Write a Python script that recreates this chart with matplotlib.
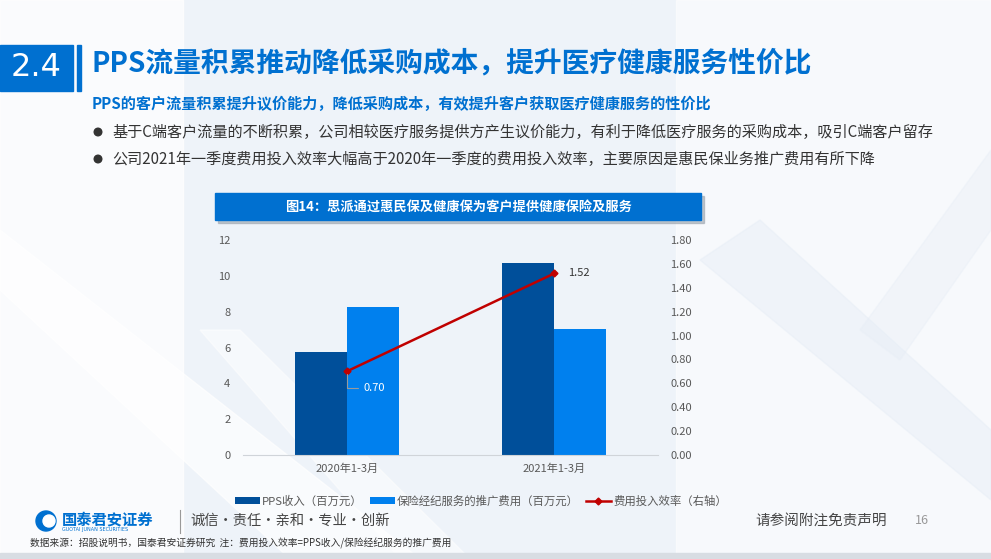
import matplotlib
matplotlib.use("Agg")
import matplotlib.pyplot as plt
from matplotlib.patches import Rectangle, Polygon, Circle
import numpy as np

plt.rcParams['font.family'] = ['Noto Sans CJK SC', 'DejaVu Sans']

# data
periods = ['2020年1-3月', '2021年1-3月']
pps_income = [5.75, 10.71]       # 百万元
promo_cost = [8.26, 7.03]        # 百万元
efficiency = [0.70, 1.52]        # 右轴
left_ticks = [0, 2, 4, 6, 8, 10, 12]
right_ticks = [0.0, 0.2, 0.4, 0.6, 0.8, 1.0, 1.2, 1.4, 1.6, 1.8]

W, H = 991, 559
BLUE = '#0070d0'
DARK = '#004f9a'
LIGHT = '#0080ee'
RED = '#c00000'
GREY = '#595959'

fig = plt.figure(figsize=(W / 100, H / 100), dpi=100)
fig.patch.set_facecolor('#eef3f9')

# background canvas in pixel coords
bg = fig.add_axes([0, 0, 1, 1])
bg.set_xlim(0, W)
bg.set_ylim(H, 0)
bg.axis('off')
# left white column, right pale column, a few diagonal stripes
bg.add_patch(Rectangle((0, 0), 183, H, color='white', alpha=0.75, zorder=0))
bg.add_patch(Rectangle((676, 0), W - 676, H, color='white', alpha=0.55, zorder=0))
bg.add_patch(Polygon([(0, 230), (0, 290), (290, 559), (420, 559)], color='white', alpha=0.7, zorder=0))
bg.add_patch(Polygon([(200, 330), (240, 330), (470, 559), (400, 559)], color='white', alpha=0.5, zorder=0))
bg.add_patch(Polygon([(700, 260), (760, 220), (991, 430), (991, 500)], color='#e6edf6', alpha=0.45, zorder=0))
bg.add_patch(Polygon([(860, 330), (991, 150), (991, 230), (900, 360)], color='#e6edf6', alpha=0.35, zorder=0))
bg.add_patch(Rectangle((0, 553), W, 6, color='#d8dde3', zorder=0))

# header
bg.add_patch(Rectangle((0, 45), 73, 46, color=BLUE, zorder=1))
bg.text(36, 68, '2.4', color='white', fontsize=23, ha='center', va='center', family='DejaVu Sans')
bg.add_patch(Rectangle((77, 45), 4, 46, color=BLUE, zorder=1))
bg.text(92, 63, 'PPS流量积累推动降低采购成本，提升医疗健康服务性价比', color=BLUE,
        fontsize=20, fontweight='bold', ha='left', va='center')
bg.text(92, 104, 'PPS的客户流量积累提升议价能力，降低采购成本，有效提升客户获取医疗健康服务的性价比',
        color=BLUE, fontsize=10.9, fontweight='bold', ha='left', va='center')
bullets = ['基于C端客户流量的不断积累，公司相较医疗服务提供方产生议价能力，有利于降低医疗服务的采购成本，吸引C端客户留存',
           '公司2021年一季度费用投入效率大幅高于2020年一季度的费用投入效率，主要原因是惠民保业务推广费用有所下降']
for i, b in enumerate(bullets):
    y = 132 + i * 27
    bg.add_patch(Circle((98, y), 3.8, color='#333333', zorder=2))
    bg.text(112, y, b, color='#333333', fontsize=10.9, ha='left', va='center')

# chart title bar
bg.add_patch(Rectangle((218, 196), 486, 27, color='#9aa3ad', alpha=0.6, zorder=1))
bg.add_patch(Rectangle((215, 193), 486, 27, color=BLUE, zorder=2))
bg.text(458, 207, '图14：思派通过惠民保及健康保为客户提供健康保险及服务', color='white',
        fontsize=9.5, fontweight='bold', ha='center', va='center', zorder=3)

# main chart
ax = fig.add_axes([243 / W, 1 - 455 / H, 415 / W, 215 / H])
ax.patch.set_alpha(0)
x = np.arange(len(periods))
bw = 0.25
ax.bar(x - bw / 2, pps_income, bw, color=DARK, label='PPS收入（百万元）', zorder=2)
ax.bar(x + bw / 2, promo_cost, bw, color=LIGHT, label='保险经纪服务的推广费用（百万元）', zorder=2)
ax.set_xlim(-0.5, 1.5)
ax.set_ylim(0, 12)
ax.set_yticks(left_ticks)
ax.set_xticks(x)
ax.set_xticklabels(periods)
for s in ['top', 'right', 'left']:
    ax.spines[s].set_visible(False)
ax.spines['bottom'].set_color('#d0d4d9')
ax.tick_params(axis='both', length=0, labelsize=8, colors=GREY, pad=6)
ax.tick_params(axis='y', pad=9)

ax2 = ax.twinx()
ax2.plot(x, efficiency, color=RED, lw=1.8, marker='D', ms=3.5, label='费用投入效率（右轴）', zorder=3)
ax2.set_ylim(0, 1.8)
ax2.set_yticks(right_ticks)
ax2.set_yticklabels([f'{t:.2f}' for t in right_ticks])
for s in ax2.spines.values():
    s.set_visible(False)
ax2.tick_params(axis='y', length=0, labelsize=8, colors=GREY, pad=9)

ax2.annotate(f'{efficiency[0]:.2f}', xy=(x[0], efficiency[0]), xytext=(12, -12),
             textcoords='offset points', color='white', fontsize=8, va='center',
             arrowprops=dict(arrowstyle='-', color='#9a9a9a', lw=0.8,
                             connectionstyle='angle,angleA=0,angleB=90,rad=0'))
ax2.annotate(f'{efficiency[1]:.2f}', xy=(x[1], efficiency[1]), xytext=(10, 0),
             textcoords='offset points', color='#333333', fontsize=8, va='center')

# legend
h1, l1 = ax.get_legend_handles_labels()
h2, l2 = ax2.get_legend_handles_labels()
fig.legend(h1 + h2, l1 + l2, loc='center', bbox_to_anchor=(481 / W, 1 - 501 / H), ncol=3,
           frameon=False, fontsize=8.2, handlelength=2.2, handleheight=0.6, columnspacing=0.6,
           handletextpad=0.2, labelcolor=GREY)

# footer
bg.add_patch(Circle((46, 521), 10, color=BLUE, zorder=2))
bg.add_patch(Circle((49, 521), 6, color='white', zorder=3))
bg.text(62, 519, '国泰君安证券', color=BLUE, fontsize=11, fontweight='bold', ha='left', va='center')
bg.text(62, 530, 'GUOTAI JUNAN SECURITIES', color=BLUE, fontsize=3.5, ha='left', va='center',
        family='DejaVu Sans')
bg.plot([180, 180], [510, 533], color='#999999', lw=0.8)
bg.text(190, 521, '诚信·责任·亲和·专业·创新', color='#444444', fontsize=10.3, ha='left', va='center')
bg.text(755, 521, '请参阅附注免责声明', color='#444444', fontsize=10.5, ha='left', va='center')
bg.text(915, 521, '16', color='#999999', fontsize=9, ha='left', va='center')
bg.text(30, 543, '数据来源：招股说明书，国泰君安证券研究  注：费用投入效率=PPS收入/保险经纪服务的推广费用',
        color='#333333', fontsize=7, ha='left', va='center')

fig.savefig('out.png', dpi=100)
